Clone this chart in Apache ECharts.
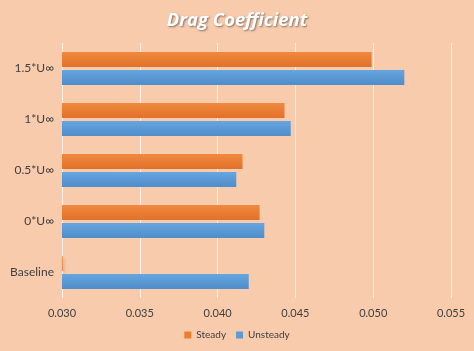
<!DOCTYPE html>
<html>
<head>
<meta charset="utf-8">
<script src="https://cdn.jsdelivr.net/npm/echarts@6/dist/echarts.min.js"></script>
<style>
	html, body { margin: 0; padding: 0; background: #F8CBAD; }
	#chart { width: 474px; height: 351px; }
</style>
</head>
<body>
<div id="chart"></div>
<script>
var categories = ["1.5*U∞", "1*U∞", "0.5*U∞", "0*U∞", "Baseline"];
var steady = [0.0499, 0.0443, 0.0416, 0.0427, 0.03005];
var unsteady = [0.0520, 0.0447, 0.0412, 0.0430, 0.0420];
var xTicks = [0.030, 0.035, 0.040, 0.045, 0.050, 0.055];

var barStyle = function (top, bottom) {
	return {
		color: new echarts.graphic.LinearGradient(0, 0, 0, 1, [
			{ offset: 0, color: top },
			{ offset: 1, color: bottom }
		]),
		shadowColor: "rgba(0,0,0,0.35)",
		shadowBlur: 3,
		shadowOffsetX: 1,
		shadowOffsetY: 2
	};
};

var chart = echarts.init(document.getElementById("chart"));
var option = {
	backgroundColor: "#F8CBAD",
	title: {
		text: "Drag Coefficient",
		left: "center",
		top: 6,
		textStyle: {
			color: "#ffffff",
			fontFamily: "Open Sans",
			fontSize: 18.5,
			fontWeight: "bold",
			fontStyle: "italic",
			textShadowColor: "rgba(0,0,0,0.45)",
			textShadowBlur: 2,
			textShadowOffsetX: 1,
			textShadowOffsetY: 1
		}
	},
	legend: {
		bottom: 6,
		itemWidth: 7,
		itemHeight: 7,
		itemGap: 10,
		textStyle: { color: "#404040", fontFamily: "Lato", fontSize: 10 },
		data: [
			{ name: "Steady", icon: "rect", itemStyle: { color: "#ED7D31" } },
			{ name: "Unsteady", icon: "rect", itemStyle: { color: "#5B9BD5" } }
		]
	},
	grid: { left: 62, right: 23, top: 43, bottom: 53, containLabel: false },
	xAxis: {
		type: "value",
		min: xTicks[0],
		max: xTicks[xTicks.length - 1],
		interval: 0.005,
		axisLine: { show: false },
		axisTick: { show: false },
		splitLine: { lineStyle: { color: "rgba(255,255,255,0.7)", width: 1 } },
		axisLabel: {
			color: "#404040",
			fontFamily: "Lato",
			fontSize: 11,
			margin: 10,
			formatter: function (v) { return v.toFixed(3); }
		}
	},
	yAxis: {
		type: "category",
		inverse: true,
		data: categories,
		axisLine: { show: false },
		axisTick: { show: false },
		axisLabel: { color: "#404040", fontFamily: "Lato", fontSize: 12, margin: 8 }
	},
	series: [{
		name: "Steady",
		type: "bar",
		data: steady,
		barWidth: 15,
		barGap: "20%",
		itemStyle: barStyle("#F0893F", "#E2712A")
	}, {
		name: "Unsteady",
		type: "bar",
		data: unsteady,
		barWidth: 15,
		barGap: "20%",
		itemStyle: barStyle("#66A5DE", "#4F8DCB")
	}]
};
chart.setOption(option);
</script>
</body>
</html>
